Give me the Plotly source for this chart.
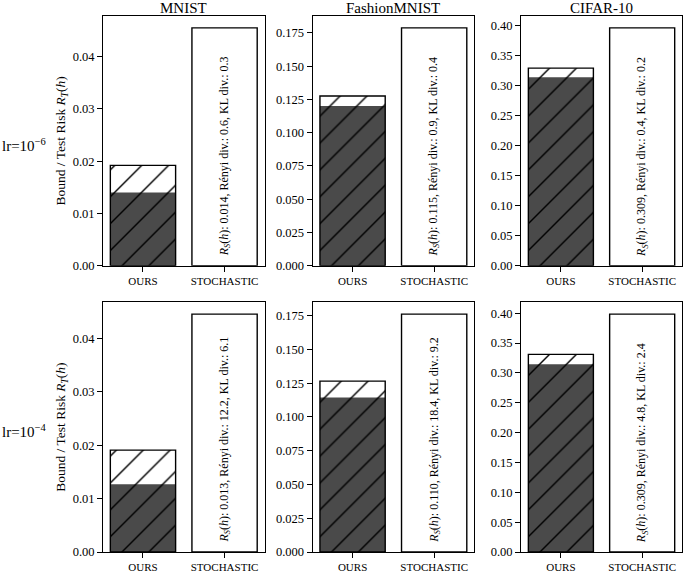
import plotly.graph_objects as go
from plotly.subplots import make_subplots

datasets = ["MNIST", "FashionMNIST", "CIFAR-10"]
learning_rates = ["lr=10<sup>−6</sup>", "lr=10<sup>−4</sup>"]
methods = ["OURS", "STOCHASTIC"]

# rows: lr=1e-6, lr=1e-4 ; columns follow datasets
ours_bound = [[0.0192, 0.1276, 0.329], [0.0191, 0.1266, 0.331]]
ours_test_risk = [[0.0140, 0.1200, 0.314], [0.0127, 0.1144, 0.3145]]
stochastic_bound = [[0.0455, 0.1788, 0.396], [0.0446, 0.1762, 0.3985]]
stochastic_train_risk = [["0.014", "0.115", "0.309"], ["0.013", "0.110", "0.309"]]
renyi_div = [["0.6", "0.9", "0.4"], ["12.2", "18.4", "4.8"]]
kl_div = [["0.3", "0.4", "0.2"], ["6.1", "9.2", "2.4"]]

ytick_step = [0.01, 0.025, 0.05]
ytick_format = [".2f", ".3f", ".2f"]

FONT = "Liberation Serif"
DARK = "#4a4a4a"

fig = make_subplots(rows=2, cols=3)

x_domains = [[0.0, 0.279], [0.362, 0.641], [0.722, 1.0]]
y_domains = [[0.534, 1.0], [0.0, 0.466]]

for r in range(2):
    for c in range(3):
        row, col = r + 1, c + 1
        # test risk (dark solid)
        fig.add_trace(go.Bar(
            x=[0], y=[ours_test_risk[r][c]], width=0.8,
            marker=dict(color=DARK, line=dict(width=0)),
            showlegend=False, hoverinfo="skip"), row=row, col=col)
        # bound (hatched, transparent)
        fig.add_trace(go.Bar(
            x=[0], y=[ours_bound[r][c]], width=0.8,
            marker=dict(color="rgba(0,0,0,0)",
                        line=dict(color="black", width=1.4),
                        pattern=dict(shape="/", size=19, solidity=0.075,
                                     fgcolor="black", bgcolor="rgba(0,0,0,0)",
                                     fillmode="replace")),
            showlegend=False, hoverinfo="skip"), row=row, col=col)
        # stochastic bound
        fig.add_trace(go.Bar(
            x=[1], y=[stochastic_bound[r][c]], width=0.8,
            marker=dict(color="white", line=dict(color="black", width=1.4)),
            showlegend=False, hoverinfo="skip"), row=row, col=col)

        label = ("<i>R</i><sub><i>S</i></sub>(<i>h</i>): " + stochastic_train_risk[r][c]
                 + ", Rényi div.: " + renyi_div[r][c] + ", KL div.: " + kl_div[r][c])
        idx = r * 3 + c + 1
        sfx = "" if idx == 1 else str(idx)
        fig.add_annotation(x=1, y=0, xref="x" + sfx, yref="y" + sfx,
                           text=label, textangle=-90, showarrow=False,
                           xanchor="center", yanchor="bottom", yshift=7,
                           font=dict(family=FONT, size=12, color="black"))

        ymax = max(ours_bound[r][c], stochastic_bound[r][c]) * 1.05
        fig.update_xaxes(domain=x_domains[c], range=[-0.49, 1.49],
                         tickvals=[0, 1], ticktext=methods,
                         tickfont=dict(family=FONT, size=11, color="black"),
                         ticks="outside", ticklen=5, tickwidth=1, tickcolor="black",
                         showline=True, linecolor="black", linewidth=1, mirror=True,
                         showgrid=False, zeroline=False, row=row, col=col)
        fig.update_yaxes(domain=y_domains[r], range=[0, ymax],
                         tick0=0, dtick=ytick_step[c], tickformat=ytick_format[c],
                         tickfont=dict(family=FONT, size=12.5, color="black"),
                         ticks="outside", ticklen=5, tickwidth=1, tickcolor="black",
                         showline=True, linecolor="black", linewidth=1, mirror=True,
                         showgrid=False, zeroline=False, row=row, col=col)

    fig.update_yaxes(title=dict(text="Bound / Test Risk <i>R</i><sub><i>T</i></sub>(<i>h</i>)",
                                font=dict(family=FONT, size=13.5, color="black"),
                                standoff=3),
                     row=r + 1, col=1)

    fig.add_annotation(x=-0.178, y=sum(y_domains[r]) / 2, xref="paper", yref="paper",
                       text=learning_rates[r], showarrow=False,
                       xanchor="left", yanchor="middle", yshift=-4,
                       font=dict(family=FONT, size=15, color="black"))

for c in range(3):
    fig.add_annotation(x=sum(x_domains[c]) / 2, y=1, xref="paper", yref="paper",
                       text=datasets[c], showarrow=False,
                       xanchor="center", yanchor="bottom", yshift=-2,
                       font=dict(family=FONT, size=15, color="black"))

fig.update_layout(
    width=685, height=575,
    barmode="overlay",
    margin=dict(l=103, r=2, t=16, b=16),
    plot_bgcolor="white", paper_bgcolor="white",
    font=dict(family=FONT, color="black"),
)

# drop the browser's default body margin so the figure sits at the page corner
fig.write_html("out.html", config={"displayModeBar": False},
               post_script="document.body.style.margin='0';")
